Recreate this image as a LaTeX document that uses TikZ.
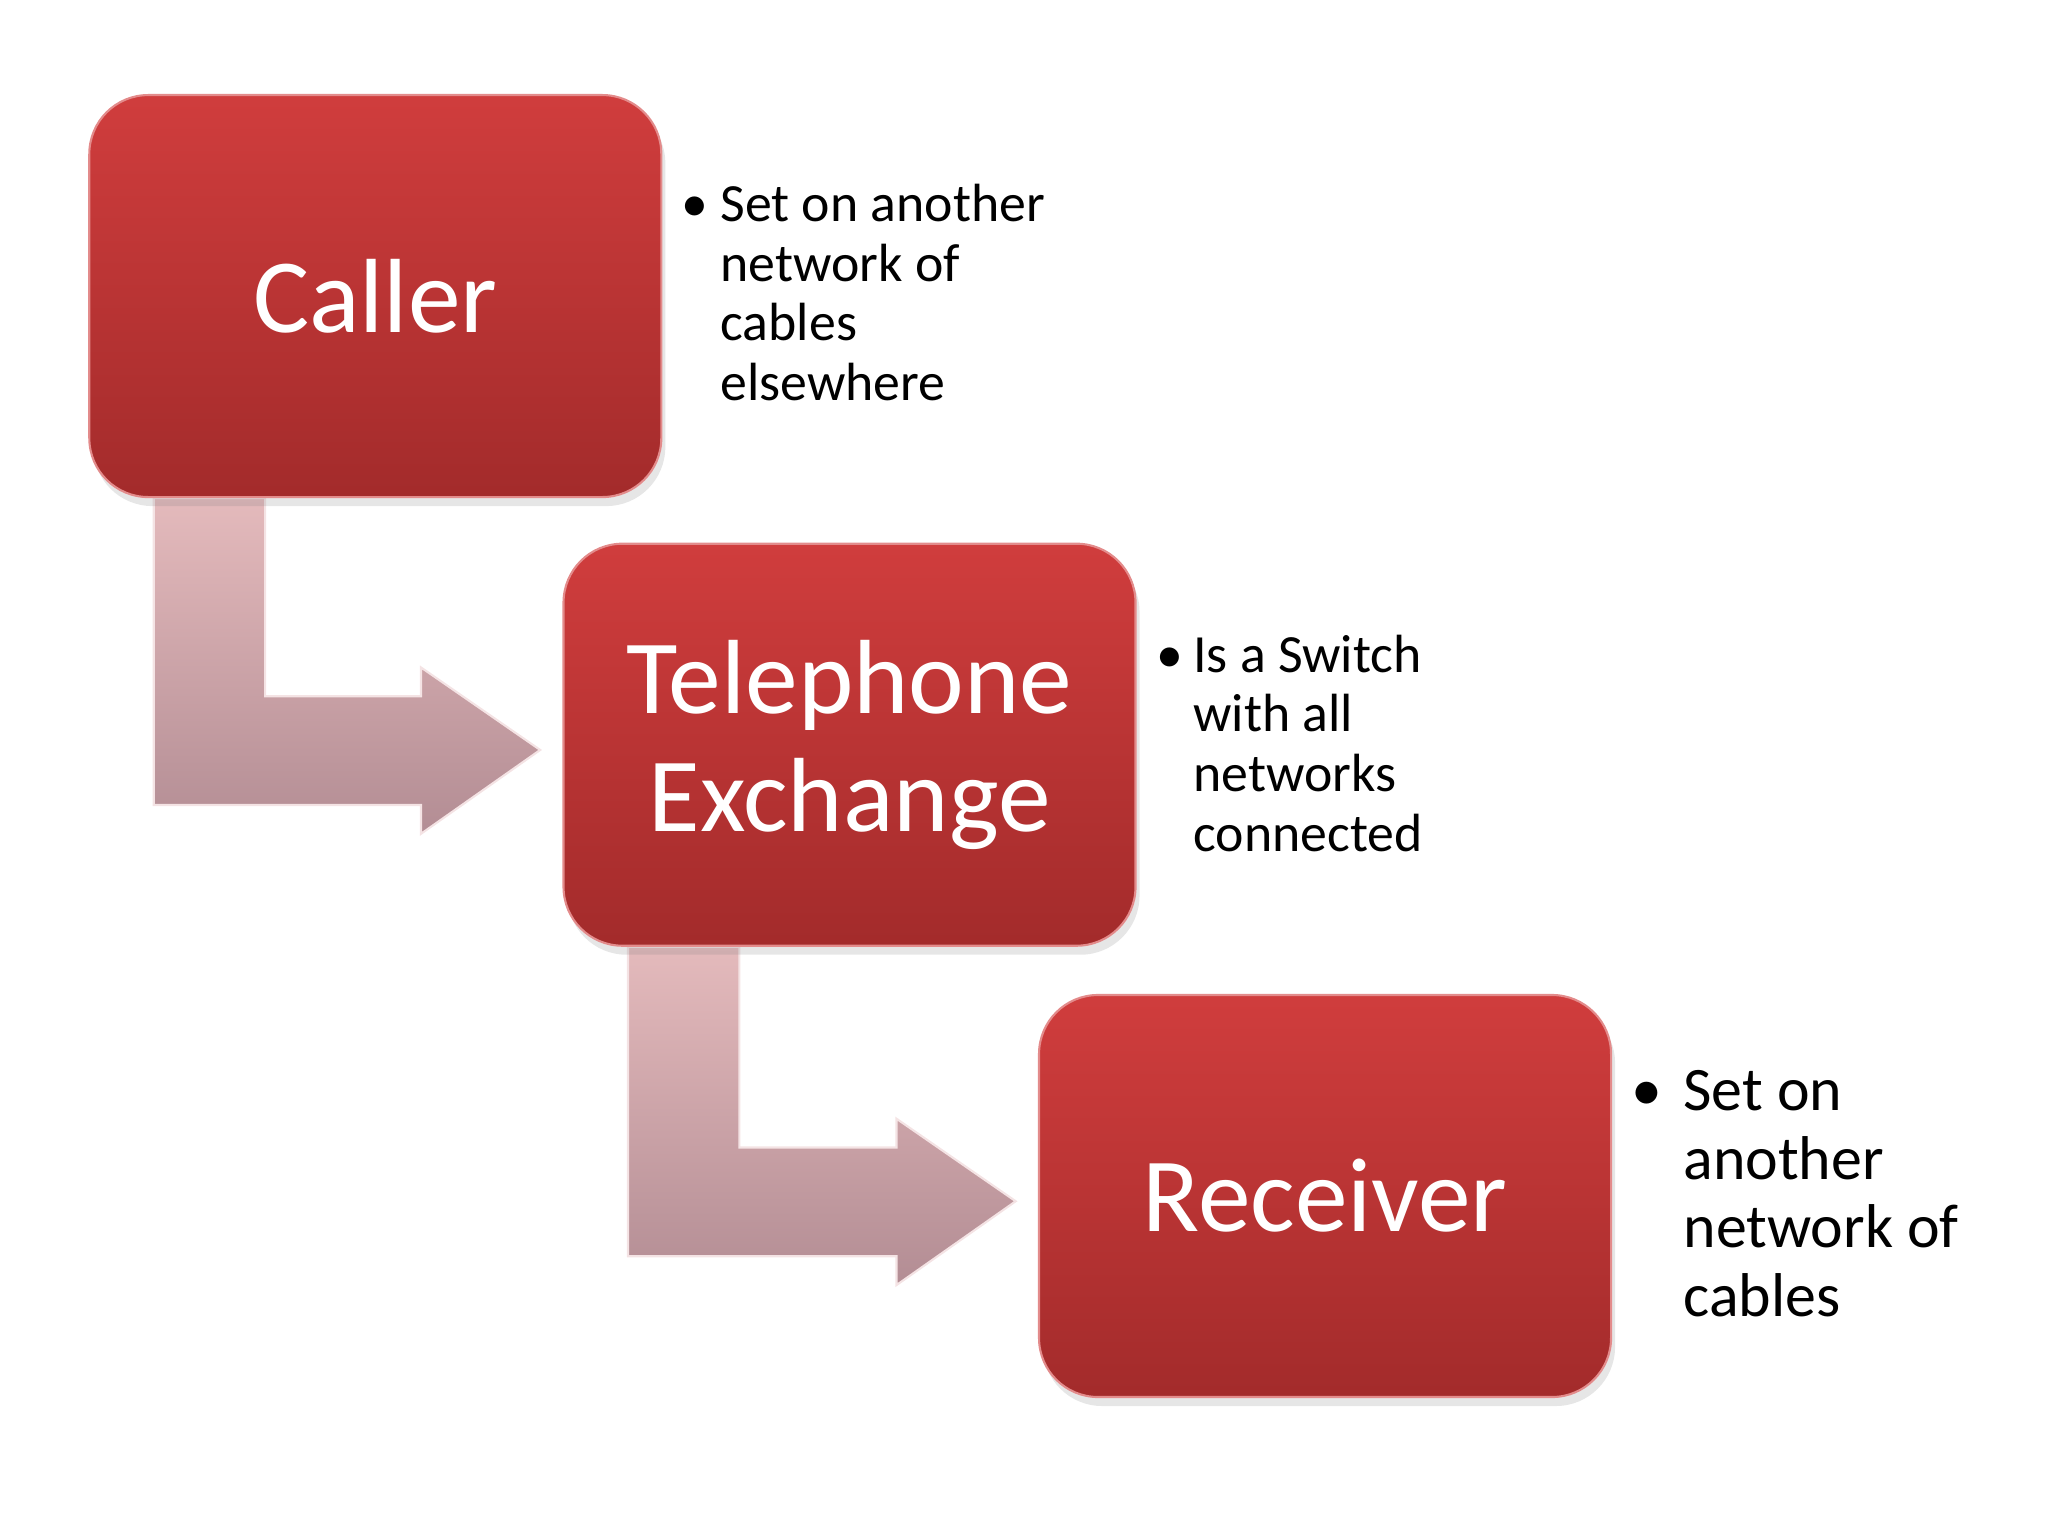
\documentclass[tikz,border=0pt]{standalone}
\usepackage{fontspec}
\setmainfont{Carlito}
\usetikzlibrary{calc,backgrounds,shadows}
\definecolor{boxtop}{HTML}{D03D3D}
\definecolor{boxbot}{HTML}{A32B2B}
\definecolor{arrtop}{HTML}{E4BABC}
\definecolor{arrbot}{HTML}{B38D94}
\begin{document}
\begin{tikzpicture}[x=0.131mm,y=-0.131mm,
        stagebox/.style={rounded corners=5.9mm, minimum width=57.2mm, minimum height=40.2mm,
            top color=boxtop, bottom color=boxbot, draw=boxtop!60!white, line width=0.6pt,
            text=white, align=center, font=\fontsize{30}{33.5}\selectfont,
            drop shadow={shadow xshift=0.4mm, shadow yshift=-0.9mm, opacity=0.2}},
        note/.style={anchor=base west, inner sep=0pt, font=\fontsize{15.3}{17}\selectfont},
        bentarrow/.style={top color=arrtop, bottom color=arrbot, draw=arrtop!40!white, line width=0.6pt}]
    \useasboundingbox (0,0) rectangle (1563.4,1172.5);
    \node[stagebox] (caller) at (286.5,226) {Caller};
    \node[stagebox] (exchange) at (648.5,568.5) {Telephone\\Exchange};
    \node[stagebox] (receiver) at (1011.5,913) {Receiver};
    \node[note] (callernote) at (520,169) {\begin{tabular}[t]{@{}l@{\hspace{3.4pt}}l@{}}\textbullet & Set on another\\ & network of\\ & cables\\ & elsewhere\end{tabular}};
    \node[note] (exchangenote) at (882,513) {\begin{tabular}[t]{@{}l@{\hspace{3pt}}l@{}}\textbullet & Is a Switch\\ & with all\\ & networks\\ & connected\end{tabular}};
    \node[note, font=\fontsize{17.6}{19.5}\selectfont] (receivernote) at (1245,848) {\begin{tabular}[t]{@{}l@{\hspace{6pt}}l@{}}\textbullet & Set on\\ & another\\ & network of\\ & cables\end{tabular}};
    \begin{scope}[on background layer]
        \foreach \a/\b in {caller/exchange,exchange/receiver}
            \draw[bentarrow] ($(\a.south west)+(50,0)$) |- ($(\b.west)+(-108,46)$) -- ++(0,22)
                -- ($(\b.west)+(-17,4)$) -- ($(\b.west)+(-108,-59)$) -- ++(0,22)
                -| ($(\a.south west)+(135,0)$) -- cycle;
    \end{scope}
\end{tikzpicture}
\end{document}
